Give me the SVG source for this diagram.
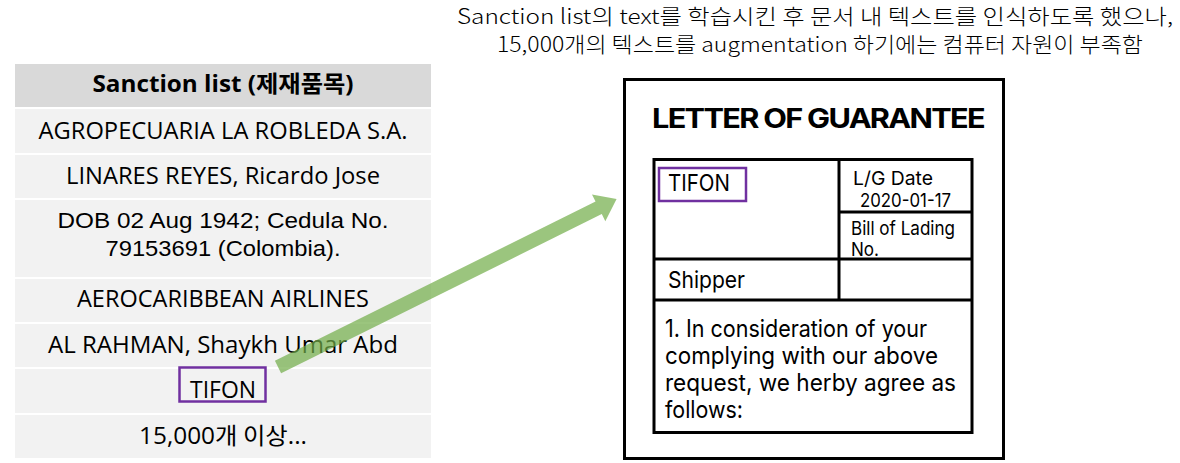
<svg xmlns="http://www.w3.org/2000/svg" width="1180" height="463" viewBox="0 0 1180 463">
<style>
.row{fill:#f2f2f2}
.hdr{fill:#d9d9d9}
.lt{font-family:"Open Sans","Noto Sans CJK KR",sans-serif;font-size:23px;fill:#000;text-anchor:middle}
.lt2{font-family:"Liberation Sans",Arial,sans-serif;font-size:22px;fill:#000;text-anchor:middle}
.kr{font-family:"Noto Sans CJK KR",sans-serif}
.top{font-family:"Noto Sans CJK KR",sans-serif;font-size:21px;font-weight:300;fill:#000;text-anchor:middle}
.doc{font-family:"Inter","Noto Sans",sans-serif;fill:#000}
.ln{stroke:#000;stroke-width:3;fill:none}
.hl{stroke:#7030a0;stroke-width:2.5;fill:none}
</style>
<rect width="1180" height="463" fill="#fff"/>
<g id="caption">
<text class="top" x="815" y="24" textLength="716" lengthAdjust="spacingAndGlyphs">Sanction list의 text를 학습시킨 후 문서 내 텍스트를 인식하도록 했으나,</text>
<text class="top" x="820" y="52" textLength="646" lengthAdjust="spacingAndGlyphs">15,000개의 텍스트를 augmentation 하기에는 컴퓨터 자원이 부족함</text>
</g>
<g id="sanction-list">
<rect class="hdr" x="15" y="64" width="416" height="43"/>
<text class="lt" x="223" y="92" font-size="22" font-weight="bold" textLength="261" lengthAdjust="spacingAndGlyphs">Sanction list (<tspan class="kr">제재품목</tspan>)</text>
<rect class="row" x="15" y="109" width="416" height="44"/>
<text class="lt" x="223" y="139" textLength="369" lengthAdjust="spacingAndGlyphs">AGROPECUARIA LA ROBLEDA S.A.</text>
<rect class="row" x="15" y="155" width="416" height="43"/>
<text class="lt" x="223" y="184" textLength="314" lengthAdjust="spacingAndGlyphs">LINARES REYES, Ricardo Jose</text>
<rect class="row" x="15" y="200" width="416" height="77"/>
<text class="lt2" x="223" y="228" textLength="331" lengthAdjust="spacingAndGlyphs">DOB 02 Aug 1942; Cedula No.</text>
<text class="lt2" x="223" y="256" textLength="235" lengthAdjust="spacingAndGlyphs">79153691 (Colombia).</text>
<rect class="row" x="15" y="279" width="416" height="43"/>
<text class="lt" x="223" y="307" textLength="292" lengthAdjust="spacingAndGlyphs">AEROCARIBBEAN AIRLINES</text>
<rect class="row" x="15" y="324" width="416" height="43"/>
<text class="lt" x="223" y="353" textLength="350" lengthAdjust="spacingAndGlyphs">AL RAHMAN, Shaykh Umar Abd</text>
<rect class="row" x="15" y="369" width="416" height="44"/>
<text class="lt" x="223" y="398" textLength="66" lengthAdjust="spacingAndGlyphs">TIFON</text>
<rect class="hl" x="179.5" y="367.5" width="86" height="34"/>
<rect class="row" x="15" y="415" width="416" height="43"/>
<text class="lt" x="223" y="444" textLength="168" lengthAdjust="spacingAndGlyphs">15,000<tspan class="kr">개 이상</tspan>...</text>
</g>
<g id="connectors">
<polygon transform="translate(278,367) rotate(-26.4)" fill="#70ad47" fill-opacity="0.7" points="0,-7 358,-7 358,-15 378,0 358,15 358,7 0,7"/>
</g>
<g id="document">
<rect class="ln" x="624.5" y="79.5" width="379" height="379"/>
<text class="doc" x="652" y="128" font-size="27" font-weight="bold" letter-spacing="-1.5" textLength="332" lengthAdjust="spacingAndGlyphs">LETTER OF GUARANTEE</text>
<rect class="ln" x="654" y="159.5" width="318" height="273"/>
<line class="ln" x1="839" y1="159" x2="839" y2="300"/>
<line class="ln" x1="839" y1="212" x2="972" y2="212"/>
<line class="ln" x1="654" y1="259" x2="972" y2="259"/>
<line class="ln" x1="654" y1="300" x2="972" y2="300"/>
<rect class="hl" x="659" y="168" width="87" height="33"/>
<text class="doc" x="668" y="191" font-size="23" textLength="62" lengthAdjust="spacingAndGlyphs">TIFON</text>
<text class="doc" x="853" y="185" font-size="19" textLength="80" lengthAdjust="spacingAndGlyphs">L/G Date</text>
<text class="doc" x="860" y="207" font-size="19" textLength="91" lengthAdjust="spacingAndGlyphs">2020-01-17</text>
<text class="doc" x="851" y="235" font-size="19" textLength="104" lengthAdjust="spacingAndGlyphs">Bill of Lading</text>
<text class="doc" x="851" y="256" font-size="19" textLength="28" lengthAdjust="spacingAndGlyphs">No.</text>
<text class="doc" x="668" y="288" font-size="23" textLength="77" lengthAdjust="spacingAndGlyphs">Shipper</text>
<text class="doc" x="665" y="337" font-size="24" textLength="262" lengthAdjust="spacingAndGlyphs">1. In consideration of your</text>
<text class="doc" x="665" y="364" font-size="24" textLength="273" lengthAdjust="spacingAndGlyphs">complying with our above</text>
<text class="doc" x="665" y="391" font-size="24" textLength="291" lengthAdjust="spacingAndGlyphs">request, we herby agree as</text>
<text class="doc" x="665" y="418" font-size="24" textLength="78" lengthAdjust="spacingAndGlyphs">follows:</text>
</g>
</svg>
